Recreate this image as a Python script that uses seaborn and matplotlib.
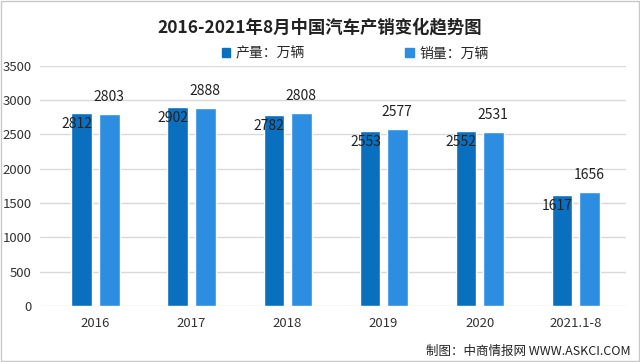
import pandas as pd
import numpy as np
import matplotlib
matplotlib.use('Agg')
import matplotlib.pyplot as plt
import seaborn as sns

years = ['2016', '2017', '2018', '2019', '2020', '2021.1-8']
production = [2812, 2902, 2782, 2553, 2552, 1617]
sales = [2803, 2888, 2808, 2577, 2531, 1656]
series_names = ['产量：万辆', '销量：万辆']
colors = ['#0b6fbf', '#2d8de0']

df = pd.DataFrame({
    'year': years * 2,
    'value': production + sales,
    'series': [series_names[0]] * len(years) + [series_names[1]] * len(years),
})

sns.set_theme(style="white")
plt.rcParams['font.family'] = ['Noto Sans CJK SC', 'DejaVu Sans']

fig = plt.figure(figsize=(6.4, 3.62), dpi=100)
ax = fig.add_axes([0.0625, 0.155, 0.916, 0.663])

sns.barplot(data=df, x='year', y='value', hue='series', palette=colors,
            width=0.573, gap=0.25, saturation=1, ax=ax, legend=False)

# value labels
for i, (p, s) in enumerate(zip(production, sales)):
    ax.text(i - 0.19, p - 165, str(p), ha='center', va='center', fontsize=10, color='#222222')
    ax.text(i + 0.14, s + 250, str(s), ha='center', va='center', fontsize=10, color='#222222')

ax.set_ylim(0, 3500)
ax.set_xlim(-0.578, 5.526)
ax.set_yticks(np.arange(0, 3501, 500))
ax.yaxis.grid(True, color='#d9d9d9', linewidth=1)
ax.set_axisbelow(True)
for sp in ax.spines.values():
    sp.set_visible(False)
ax.set_xlabel('')
ax.set_ylabel('')
ax.tick_params(axis='both', length=0, labelsize=9.5, colors='#333333')
ax.tick_params(axis='x', pad=8)
ax.tick_params(axis='y', pad=6)

fig.text(0.5, 0.925, '2016-2021年8月中国汽车产销变化趋势图', ha='center', va='center',
         fontsize=12.5, fontweight='bold', color='#222222')

handles = [plt.Rectangle((0, 0), 1, 1, color=c) for c in colors]
fig.legend(handles, series_names, loc='center', bbox_to_anchor=(0.555, 0.852), ncol=2,
           frameon=False, fontsize=10, handlelength=0.6, handleheight=0.6,
           handletextpad=0.4, columnspacing=7.2)

fig.text(0.985, 0.03, '制图：中商情报网 WWW.ASKCI.COM', ha='right', va='center',
         fontsize=9, color='#222222')

border = plt.Rectangle((0.002, 0.003), 0.996, 0.994, transform=fig.transFigure,
                       fill=False, edgecolor='#c8c8c8', linewidth=1)
fig.patches.append(border)

fig.savefig('out.png', dpi=100)
